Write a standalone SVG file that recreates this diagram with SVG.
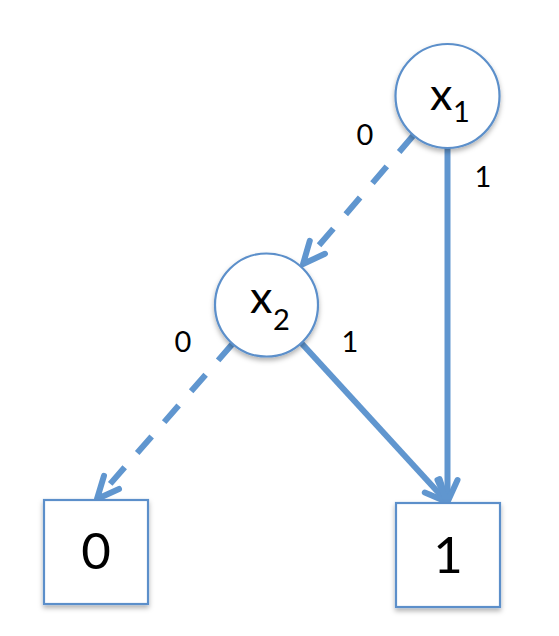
<svg xmlns="http://www.w3.org/2000/svg" width="559" height="636" viewBox="0 0 559 636">
<style>
.node{fill:#ffffff;stroke:#5b8fca;stroke-width:2.2;filter:url(#sh)}
.edge{fill:none;stroke:#6096cf;stroke-width:6;marker-end:url(#arr)}
.dash{stroke-dasharray:22 19}
.t{font-family:Lato,"Liberation Sans",sans-serif;fill:#000000}
.lbl{font-size:29px;text-anchor:middle}
.big{font-size:45px}
.sub{font-size:29px}
.box{font-size:51px;text-anchor:middle}
</style>
<defs>
<filter id="sh" x="-20%" y="-20%" width="140%" height="150%">
<feDropShadow dx="0" dy="3" stdDeviation="2.5" flood-color="#000000" flood-opacity="0.3"/>
</filter>
<marker id="arr" markerUnits="userSpaceOnUse" viewBox="-30 -15 36 30" refX="-3" refY="0" markerWidth="36" markerHeight="30" orient="auto" overflow="visible">
<path d="M-22,-10 L0,0 L-22,10" fill="none" stroke="#6096cf" stroke-width="6" stroke-linecap="round" stroke-linejoin="round" stroke-dasharray="none"/>
</marker>
</defs>
<g id="connectors">
<line class="edge dash" x1="413.5" y1="135.3" x2="305" y2="261.7"/>
<line class="edge dash" x1="232.6" y1="343.8" x2="99" y2="496.7"/>
<line class="edge" x1="301.3" y1="343" x2="445" y2="499.8"/>
<line class="edge" x1="447.5" y1="148" x2="447.5" y2="499"/>
</g>
<g id="labels">
<text class="t lbl" x="365" y="145">0</text>
<text class="t lbl" x="483" y="187">1</text>
<text class="t lbl" x="183" y="352">0</text>
<text class="t lbl" x="350" y="352">1</text>
</g>
<g id="node-x1">
<circle class="node" cx="447.5" cy="96" r="52"/>
<text class="t"><tspan class="big" x="430" y="110">x</tspan><tspan class="sub" x="453" y="122">1</tspan></text>
</g>
<g id="node-x2">
<circle class="node" cx="266.5" cy="305" r="51.5"/>
<text class="t"><tspan class="big" x="250" y="313">x</tspan><tspan class="sub" x="273" y="330">2</tspan></text>
</g>
<g id="node-0">
<rect class="node" x="44" y="500" width="104" height="104"/>
<text class="t box" x="96" y="569">0</text>
</g>
<g id="node-1">
<rect class="node" x="396" y="503" width="104" height="104"/>
<text class="t box" x="448" y="573">1</text>
</g>
</svg>
